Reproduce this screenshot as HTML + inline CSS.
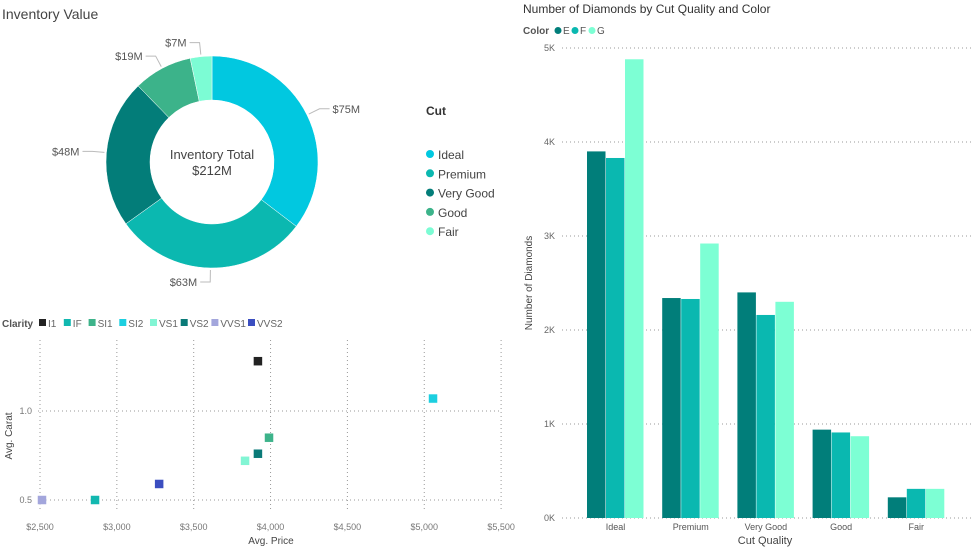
<!DOCTYPE html>
<html><head><meta charset="utf-8"><style>
body{margin:0;width:975px;height:550px;background:#fff;font-family:"Liberation Sans",sans-serif;overflow:hidden}
svg{display:block}
text{font-family:"Liberation Sans",sans-serif}
</style></head><body>
<svg id="s" width="975" height="550">
<text x="2" y="19" font-size="14" fill="#444">Inventory Value</text>
<g id="donut"></g>
<text x="212" y="159" font-size="13" fill="#444" text-anchor="middle">Inventory Total</text>
<text x="212" y="175" font-size="13" fill="#444" text-anchor="middle">$212M</text>
<text x="426" y="115" font-size="12" font-weight="bold" fill="#333">Cut</text>
<g id="dleg"></g>
<text x="523" y="13" font-size="12" fill="#333">Number of Diamonds by Cut Quality and Color</text>
<g id="bar"></g>
<g id="sc"></g>
</svg>
<script>
const NS="http://www.w3.org/2000/svg";
function el(t,a,p){const e=document.createElementNS(NS,t);for(const k in a)e.setAttribute(k,a[k]);p.appendChild(e);return e;}
// Donut data
const cuts=["Ideal","Premium","Very Good","Good","Fair"];
const cutValues=[75,63,48,19,7];
const cutLabels=["$75M","$63M","$48M","$19M","$7M"];
const cutColors=["#01c8e0","#0bb8b0","#037d79","#3cb38a","#7cfcd4"];
// Bar data
const barCats=["Ideal","Premium","Very Good","Good","Fair"];
const colorE=[3900,2340,2400,940,220];
const colorF=[3830,2330,2160,910,310];
const colorG=[4880,2920,2300,870,310];
const barTicks=[0,1000,2000,3000,4000,5000];
const barTickLabels=["0K","1K","2K","3K","4K","5K"];
// Scatter data
const clarity=["I1","IF","SI1","SI2","VS1","VS2","VVS1","VVS2"];
const avgPrice=[3918,2858,3990,5057,3834,3918,2513,3275];
const avgCarat=[1.28,0.50,0.85,1.07,0.72,0.76,0.50,0.59];
const clarityColors=["#222","#12b8b0","#3db38a","#1ccfe0","#82f5d4","#0a7a78","#a3a6dc","#3b4ec0"];
const xTicks=[2500,3000,3500,4000,4500,5000,5500];
const yTicks=[0.5,1.0];

// Donut
(function(){
const g=document.getElementById('donut');const cx=212,cy=162,R=106,r=62;
const tot=cutValues.reduce((a,b)=>a+b,0);let a0=0;
const lg=document.getElementById('dleg');
cutValues.forEach((v,i)=>{
 const a1=a0+v/tot*2*Math.PI;
 const p=(a,rr)=>[cx+rr*Math.sin(a),cy-rr*Math.cos(a)];
 const [x0,y0]=p(a0,R),[x1,y1]=p(a1,R),[x2,y2]=p(a1,r),[x3,y3]=p(a0,r);
 const lf=(a1-a0)>Math.PI?1:0;
 const s=el('path',{d:`M${x0},${y0}A${R},${R} 0 ${lf} 1 ${x1},${y1}L${x2},${y2}A${r},${r} 0 ${lf} 0 ${x3},${y3}Z`,fill:cutColors[i],stroke:'#fff','stroke-width':0.5},g);
 
 
 const am=(a0+a1)/2;const [lx,ly]=p(am,R+2);const [ex,ey]=p(am,R+14);
 const right=Math.sin(am)>=0;
 el('polyline',{points:`${lx},${ly} ${ex},${ey} ${ex+(right?10:-10)},${ey}`,fill:'none',stroke:'#bbb'},g);
 const t=el('text',{x:ex+(right?13:-13),y:ey+4,'font-size':11,fill:'#555','text-anchor':right?'start':'end'},g);
 t.textContent=cutLabels[i];
 
 
 a0=a1;
 const ly2=158+i*19.3;
 el('circle',{cx:430,cy:ly2-4,r:4,fill:cutColors[i]},lg);
 const lt=el('text',{x:438,y:ly2+1,'font-size':12,fill:'#444'},lg);
 lt.textContent=cuts[i];
 
 
});
})();

// Bar chart
(function(){
const g=document.getElementById('bar');
const y=v=>518-v*0.094;const x0=587,step=75.2,bw=19;
el('text',{x:523,y:34,'font-size':10,'font-weight':'bold',fill:'#555'},g).textContent="Color";
const cols=["#017e7a","#0ab8b0","#7dffd4"],names=["E","F","G"];
names.forEach((n,i)=>{el('circle',{cx:558+i*17,cy:30.5,r:3.5,fill:cols[i]},g);el('text',{x:563+i*17,y:34,'font-size':10,fill:'#555'},g).textContent=n;});
barTicks.forEach((t,i)=>{
 el('line',{x1:562,x2:972,y1:y(t),y2:y(t),stroke:'#999','stroke-dasharray':'1,3'},g);
 const tt=el('text',{x:555,y:y(t)+3,'font-size':9,fill:'#666','text-anchor':'end'},g);tt.textContent=barTickLabels[i];
});
const series=[colorE,colorF,colorG];
barCats.forEach((c,ci)=>{
 series.forEach((s,si)=>{
  const r=el('rect',{x:x0+ci*step+si*bw,y:y(s[ci]),width:bw-0.5,height:518-y(s[ci]),fill:cols[si]},g);
  
  
 });
 el('text',{x:x0+ci*step+1.5*bw,y:530,'font-size':9,fill:'#555','text-anchor':'middle'},g).textContent=c;
});
el('text',{x:765,y:544,'font-size':11,fill:'#444','text-anchor':'middle'},g).textContent="Cut Quality";
el('text',{x:0,y:0,'font-size':10,fill:'#444','text-anchor':'middle',transform:'translate(532,283) rotate(-90)'},g).textContent="Number of Diamonds";
})();

// Scatter
(function(){
const g=document.getElementById('sc');
const x=v=>40+(v-2500)*0.1537;const y=v=>500-(v-0.5)*178;
el('text',{x:2,y:327,'font-size':10,'font-weight':'bold',fill:'#555'},g).textContent="Clarity";
let lx=39;
clarity.forEach((c,i)=>{el('rect',{x:lx,y:319,width:7,height:7,fill:clarityColors[i]},g);const t=el('text',{x:lx+9,y:327,'font-size':10,fill:'#666'},g);t.textContent=c;lx+=10+c.length*5.9+3;});
xTicks.forEach(t=>{el('line',{x1:x(t),x2:x(t),y1:340,y2:510,stroke:'#999','stroke-dasharray':'1,3'},g);
 el('text',{x:x(t),y:530,'font-size':9,fill:'#777','text-anchor':'middle'},g).textContent='$'+t.toLocaleString('en-US');});
yTicks.forEach(t=>{el('line',{x1:38,x2:502,y1:y(t),y2:y(t),stroke:'#999','stroke-dasharray':'1,3'},g);
 el('text',{x:32,y:y(t)+3,'font-size':9,fill:'#777','text-anchor':'end'},g).textContent=t.toFixed(1);});
clarity.forEach((c,i)=>{
 const r=el('rect',{x:x(avgPrice[i])-4.5,y:y(avgCarat[i])-4.5,width:9,height:9,fill:clarityColors[i],stroke:'#fff','stroke-width':0.5},g);
 
 
});
el('text',{x:271,y:544,'font-size':10,fill:'#444','text-anchor':'middle'},g).textContent="Avg. Price";
el('text',{x:0,y:0,'font-size':10,fill:'#444','text-anchor':'middle',transform:'translate(12,436) rotate(-90)'},g).textContent="Avg. Carat";
})();
</script>
</body></html>
